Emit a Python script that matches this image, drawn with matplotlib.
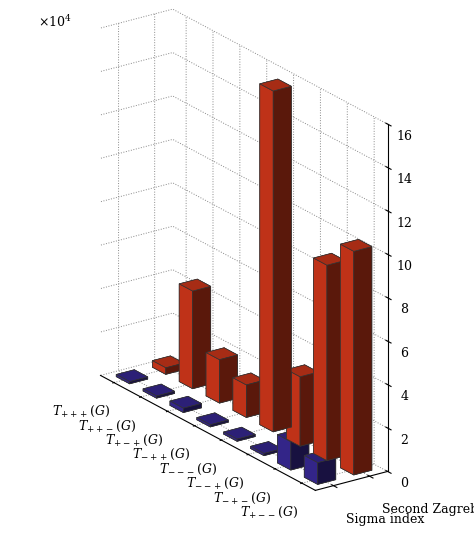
import matplotlib
matplotlib.use("Agg")
import matplotlib.pyplot as plt
import numpy as np

categories = ["$T_{+++}(G)$", "$T_{++-}(G)$", "$T_{+-+}(G)$", "$T_{-++}(G)$",
              "$T_{---}(G)$", "$T_{--+}(G)$", "$T_{-+-}(G)$", "$T_{+--}(G)$"]
series = ["Sigma index", "Second Zagreb"]
sigma = [0.1, 0.1, 0.2, 0.1, 0.1, 0.1, 1.3, 1.0]
zagreb = [0.3, 4.5, 2.0, 1.5, 15.7, 3.2, 9.0, 10.3]
colors = ["#3a2a9a", "#d8391b"]

plt.rcParams["font.family"] = "DejaVu Serif"
plt.rcParams["mathtext.fontset"] = "dejavuserif"

fig = plt.figure(figsize=(4.74, 5.35), dpi=100)
ax = fig.add_axes([-0.05, -0.02, 1.1, 1.08], projection="3d")
ax.set_proj_type("ortho")

w = 0.5
for j, vals in enumerate([sigma, zagreb]):
    xs = np.arange(len(categories)) + 1 - w / 2
    ys = np.full(len(categories), j + 1 - w / 2)
    ax.bar3d(xs, ys, np.zeros(len(categories)), w, w, vals,
             color=colors[j], edgecolor="#333333", linewidth=0.5, shade=True)

ax.set_xlim(0.5, len(categories) + 0.5)
ax.set_ylim(0.5, 2.5)
ax.set_zlim(0, 16)
ax.set_xticks(np.arange(1, len(categories) + 1))
ax.set_xticklabels(categories, fontsize=9, ha="right")
ax.set_yticks([1, 2])
ax.set_yticklabels(series, fontsize=9, ha="left")
ax.set_zticks(np.arange(0, 17, 2))
ax.set_zticklabels([str(v) for v in range(0, 17, 2)], fontsize=9)
ax.text2D(0.08, 0.95, r"$\times10^4$", transform=fig.transFigure, fontsize=9)

for axis in (ax.xaxis, ax.yaxis, ax.zaxis):
    axis.pane.fill = False
    axis.pane.set_edgecolor("none")
    axis._axinfo["grid"].update(color="#888888", linestyle=":", linewidth=0.7)
ax.view_init(elev=22, azim=-35)
ax.set_box_aspect((3.4, 0.8, 3.4))

fig.savefig("out.png", dpi=100)
